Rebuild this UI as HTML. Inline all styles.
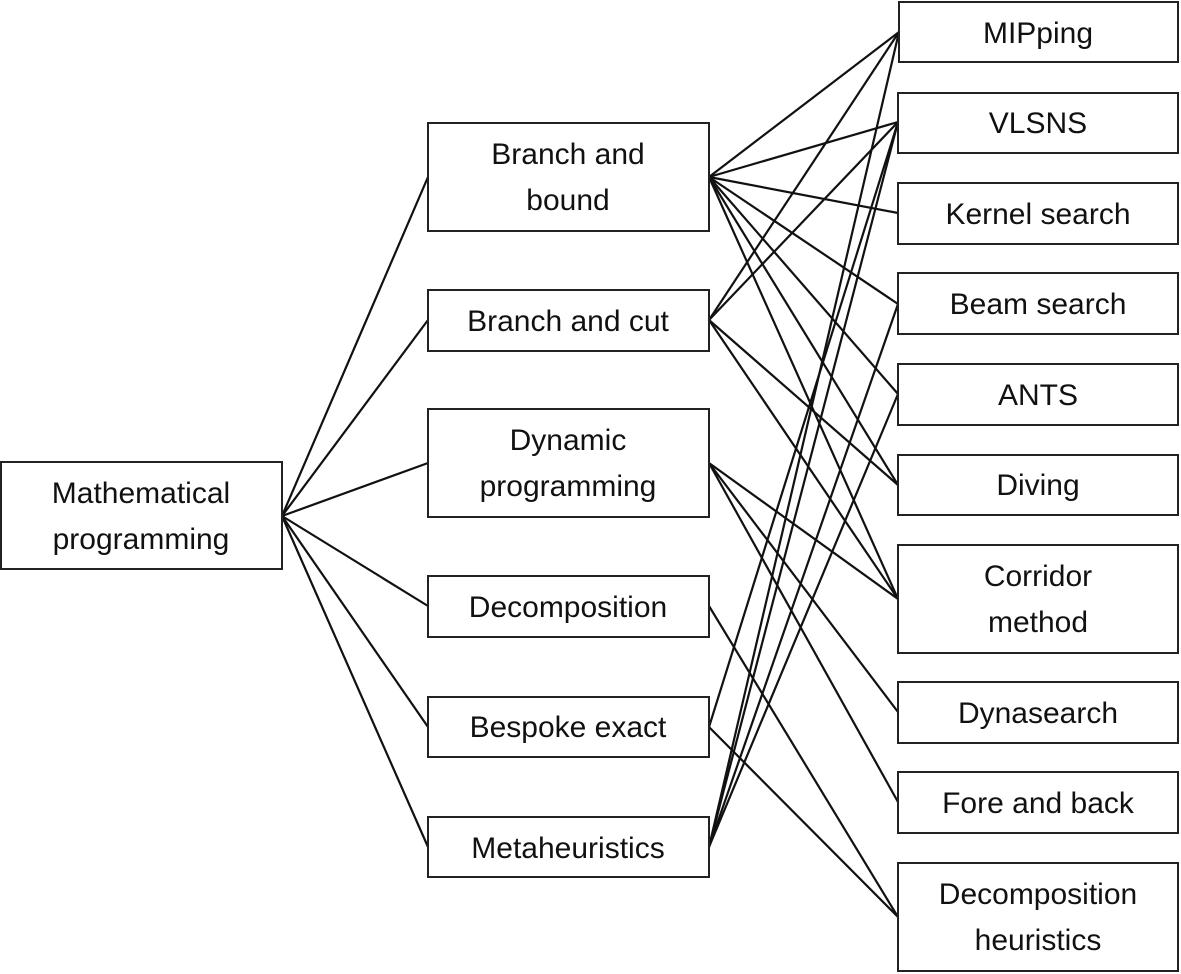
<!DOCTYPE html>
<html><head><style>
html,body{margin:0;padding:0;background:#fff;}
svg{display:block;}
text{font-family:"Liberation Sans","DejaVu Sans",sans-serif;font-size:30px;fill:#111;text-anchor:middle;}
</style></head><body>
<svg width="1181" height="974" viewBox="0 0 1181 974">
<g stroke="#111" stroke-width="2.2" fill="none">
<line x1="282" y1="516" x2="428" y2="177"/>
<line x1="282" y1="516" x2="428" y2="320"/>
<line x1="282" y1="516" x2="428" y2="463"/>
<line x1="282" y1="516" x2="428" y2="606"/>
<line x1="282" y1="516" x2="428" y2="727"/>
<line x1="282" y1="516" x2="428" y2="847"/>
<line x1="709" y1="177" x2="899" y2="32"/>
<line x1="709" y1="177" x2="898" y2="122"/>
<line x1="709" y1="177" x2="898" y2="213"/>
<line x1="709" y1="177" x2="898" y2="304"/>
<line x1="709" y1="177" x2="898" y2="394"/>
<line x1="709" y1="177" x2="898" y2="485"/>
<line x1="709" y1="177" x2="898" y2="599"/>
<line x1="709" y1="320" x2="899" y2="32"/>
<line x1="709" y1="320" x2="898" y2="122"/>
<line x1="709" y1="320" x2="898" y2="485"/>
<line x1="709" y1="320" x2="898" y2="599"/>
<line x1="709" y1="463" x2="898" y2="599"/>
<line x1="709" y1="463" x2="898" y2="712"/>
<line x1="709" y1="463" x2="898" y2="802"/>
<line x1="709" y1="606" x2="898" y2="917"/>
<line x1="709" y1="727" x2="898" y2="122"/>
<line x1="709" y1="727" x2="898" y2="917"/>
<line x1="709" y1="847" x2="899" y2="32"/>
<line x1="709" y1="847" x2="898" y2="122"/>
<line x1="709" y1="847" x2="898" y2="304"/>
<line x1="709" y1="847" x2="898" y2="394"/>
</g>
<g stroke="#222" stroke-width="2" fill="#fff">
<rect x="1" y="462" width="281" height="107"/>
<rect x="428" y="123" width="281" height="108"/>
<rect x="428" y="290" width="281" height="61"/>
<rect x="428" y="409" width="281" height="108"/>
<rect x="428" y="576" width="281" height="61"/>
<rect x="428" y="697" width="281" height="60"/>
<rect x="428" y="817" width="281" height="60"/>
<rect x="899" y="2" width="279" height="60"/>
<rect x="898" y="93" width="280" height="60"/>
<rect x="898" y="183" width="280" height="61"/>
<rect x="898" y="273" width="280" height="61"/>
<rect x="898" y="364" width="280" height="61"/>
<rect x="898" y="455" width="280" height="60"/>
<rect x="898" y="545" width="280" height="108"/>
<rect x="898" y="682" width="280" height="61"/>
<rect x="898" y="772" width="280" height="61"/>
<rect x="898" y="863" width="280" height="108"/>
</g>
<text x="141" y="503">Mathematical</text>
<text x="141" y="549">programming</text>
<text x="568" y="164">Branch and</text>
<text x="568" y="210">bound</text>
<text x="568" y="331">Branch and cut</text>
<text x="568" y="450">Dynamic</text>
<text x="568" y="496">programming</text>
<text x="568" y="617">Decomposition</text>
<text x="568" y="737">Bespoke exact</text>
<text x="568" y="858">Metaheuristics</text>
<text x="1038" y="43">MIPping</text>
<text x="1038" y="133">VLSNS</text>
<text x="1038" y="224">Kernel search</text>
<text x="1038" y="314">Beam search</text>
<text x="1038" y="405">ANTS</text>
<text x="1038" y="495">Diving</text>
<text x="1038" y="586">Corridor</text>
<text x="1038" y="632">method</text>
<text x="1038" y="723">Dynasearch</text>
<text x="1038" y="813">Fore and back</text>
<text x="1038" y="904">Decomposition</text>
<text x="1038" y="950">heuristics</text>
</svg>
</body></html>
